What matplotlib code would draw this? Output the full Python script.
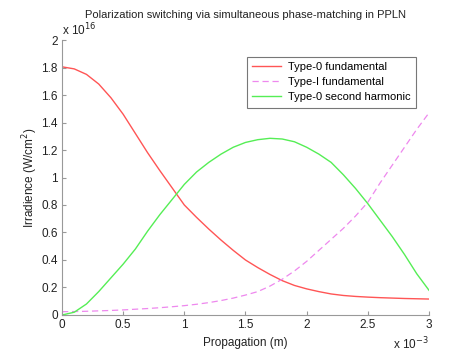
import matplotlib
matplotlib.use('Agg')
import matplotlib.pyplot as plt

plt.rcParams['font.family'] = ['Liberation Sans', 'DejaVu Sans']

# propagation (units of 1e-3 m)
z = [0.0, 0.1, 0.2, 0.3, 0.4, 0.5, 0.6, 0.7, 0.8, 0.9, 1.0,
     1.1, 1.2, 1.3, 1.4, 1.5, 1.6, 1.7, 1.8, 1.9, 2.0,
     2.1, 2.2, 2.3, 2.4, 2.5, 2.6, 2.7, 2.8, 2.9, 3.0]

# irradiance (units of 1e16 W/cm^2)
type0_fund = [1.805, 1.79, 1.75, 1.68, 1.58, 1.46, 1.32, 1.18, 1.05, 0.925, 0.80,
              0.71, 0.625, 0.545, 0.47, 0.40, 0.345, 0.295, 0.25, 0.215, 0.19,
              0.17, 0.153, 0.142, 0.135, 0.13, 0.126, 0.123, 0.12, 0.118, 0.116]
typeI_fund = [0.024, 0.025, 0.027, 0.03, 0.033, 0.037, 0.042, 0.047, 0.053, 0.06, 0.068,
              0.078, 0.09, 0.105, 0.123, 0.145, 0.17, 0.21, 0.26, 0.32, 0.39,
              0.47, 0.55, 0.63, 0.72, 0.82, 0.96, 1.09, 1.22, 1.35, 1.47]
type0_shg = [0.0, 0.02, 0.08, 0.17, 0.27, 0.37, 0.48, 0.61, 0.73, 0.84, 0.95,
             1.04, 1.11, 1.17, 1.22, 1.255, 1.275, 1.285, 1.28, 1.26, 1.22,
             1.17, 1.11, 1.02, 0.92, 0.81, 0.69, 0.57, 0.44, 0.30, 0.18]

fig = plt.figure(figsize=(4.74, 3.55), dpi=100)
ax = fig.add_axes([0.1308, 0.1127, 0.7742, 0.7746])

ax.plot(z, type0_fund, color='#ff5555', lw=1.0, label='Type-0 fundamental')
ax.plot(z, typeI_fund, color='#ee88ee', lw=0.9, dashes=(5, 3), label='Type-I fundamental')
ax.plot(z, type0_shg, color='#55ee55', lw=1.0, label='Type-0 second harmonic')

ax.set_xlim(0, 3)
ax.set_ylim(0, 2)
ax.set_xticks([0, 0.5, 1, 1.5, 2, 2.5, 3])
ax.set_xticklabels(['0', '0.5', '1', '1.5', '2', '2.5', '3'])
ax.set_yticks([0, 0.2, 0.4, 0.6, 0.8, 1, 1.2, 1.4, 1.6, 1.8, 2])
ax.set_yticklabels(['0', '0.2', '0.4', '0.6', '0.8', '1', '1.2', '1.4', '1.6', '1.8', '2'])

for s in ['top', 'right']:
    ax.spines[s].set_visible(False)
for s in ['left', 'bottom']:
    ax.spines[s].set_color('#999999')
    ax.spines[s].set_linewidth(0.8)
ax.tick_params(direction='in', length=3, color='#999999', labelsize=8.5, labelcolor='#222222', pad=3)

ax.set_title('Polarization switching via simultaneous phase-matching in PPLN', fontsize=8, color='#222222', pad=16)
ax.set_xlabel('Propagation (m)', fontsize=8.5, color='#222222', labelpad=4)
ax.set_ylabel('Irradience (W/cm$^2$)', fontsize=8.5, color='#222222', labelpad=1)

ax.text(0.0, 1.005, r'x 10$^{16}$', transform=ax.transAxes, fontsize=8.5, color='#222222', va='bottom', ha='left')
ax.text(1.0, -0.075, r'x 10$^{-3}$', transform=ax.transAxes, fontsize=8.5, color='#222222', va='top', ha='right')

leg = ax.legend(loc='upper right', bbox_to_anchor=(0.965, 0.94), fontsize=8, frameon=True, fancybox=False,
                handlelength=2.6, borderpad=0.5, labelspacing=0.45, handletextpad=0.6, borderaxespad=0)
leg.get_frame().set_edgecolor('#555555')
leg.get_frame().set_linewidth(0.8)

fig.savefig('out.png', dpi=100)
